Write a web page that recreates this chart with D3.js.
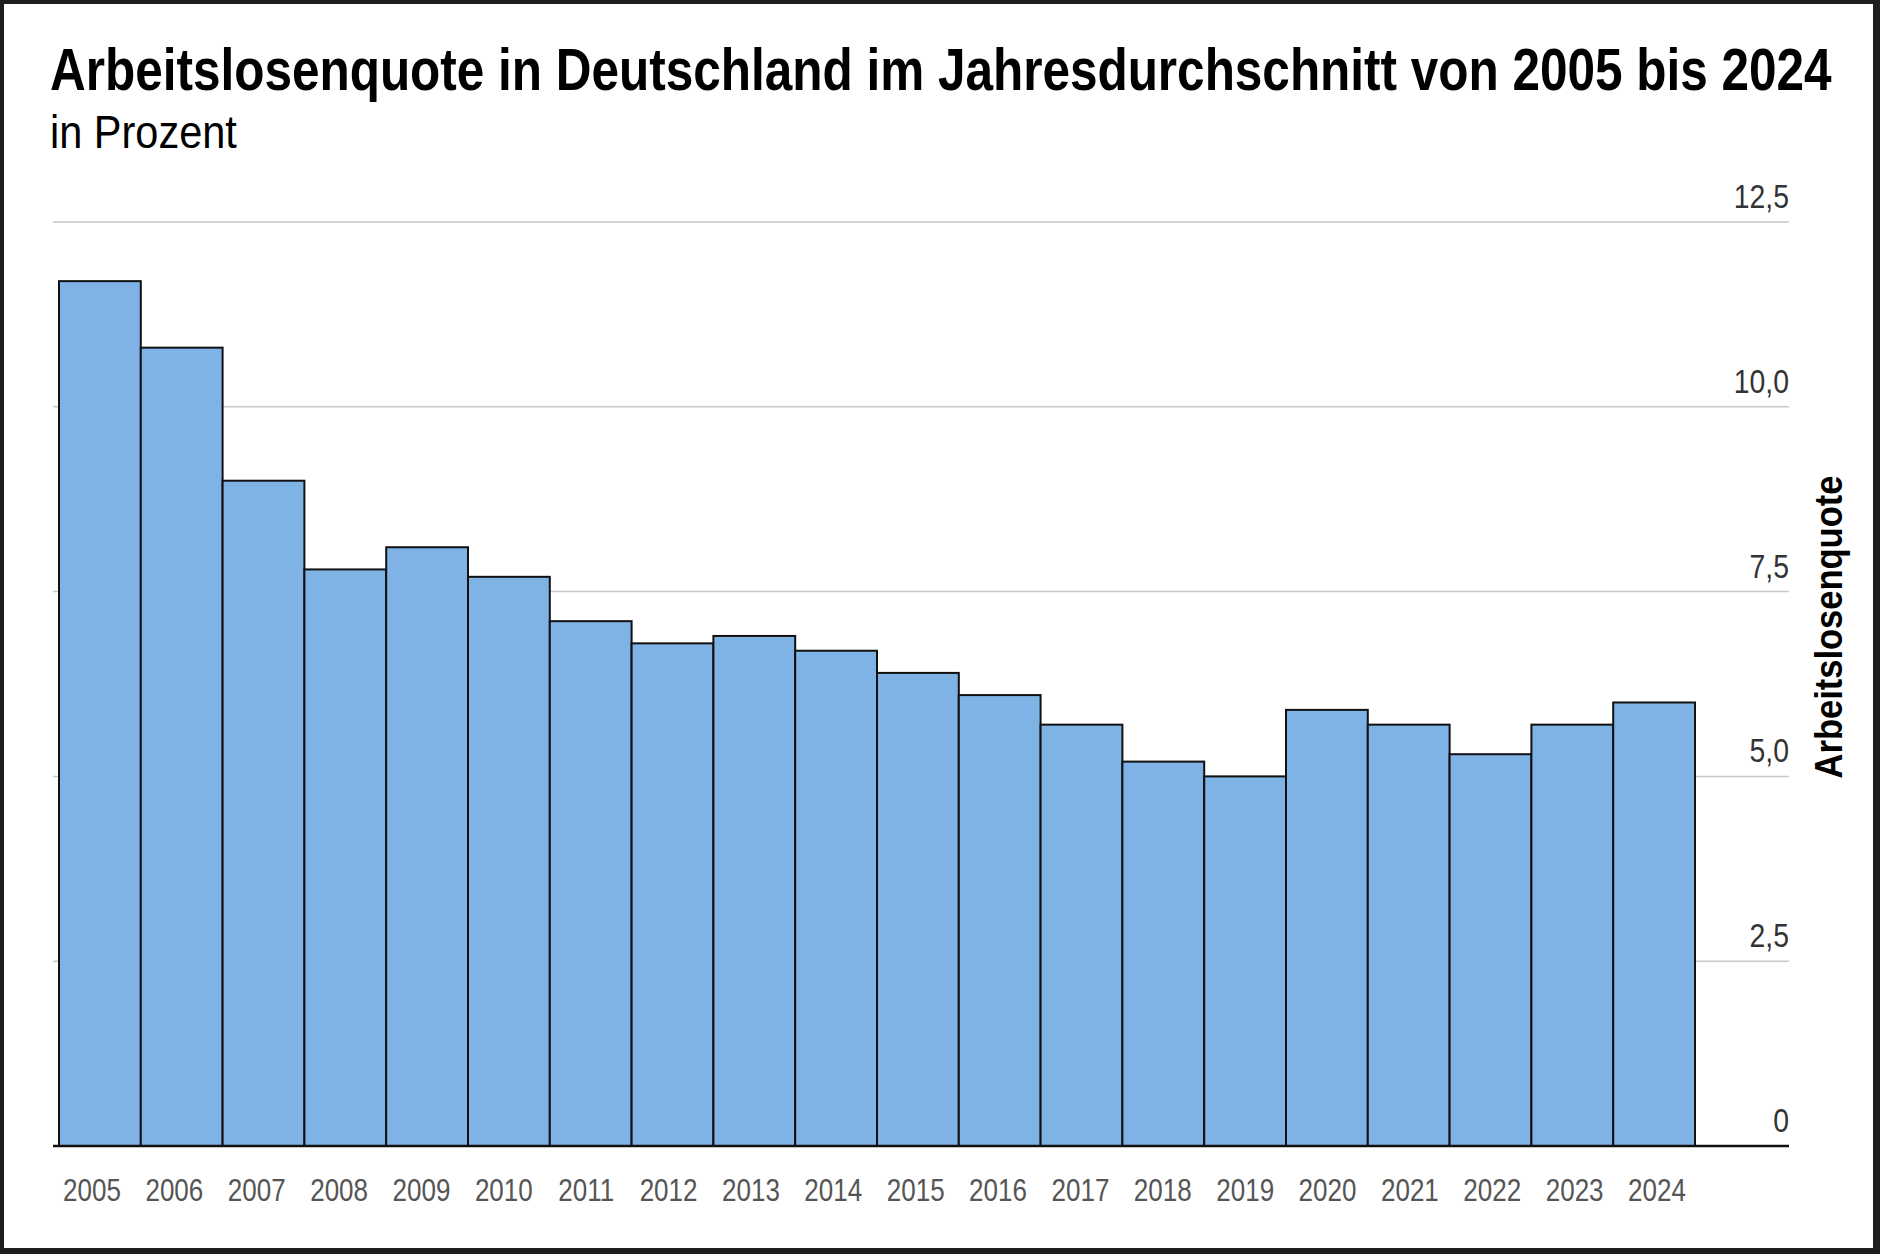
<!DOCTYPE html>
<html>
<head>
<meta charset="utf-8">
<script src="https://cdn.jsdelivr.net/npm/d3@7.9.0/dist/d3.min.js"></script>
<style>
  html, body { margin: 0; padding: 0; background: #1e1e1e; }
  svg { display: block; }
</style>
</head>
<body>
<svg id="chart" width="1880" height="1254"></svg>
<script>
// data
const years = ["2005","2006","2007","2008","2009","2010","2011","2012","2013","2014",
               "2015","2016","2017","2018","2019","2020","2021","2022","2023","2024"];
const quote = [11.7, 10.8, 9.0, 7.8, 8.1, 7.7, 7.1, 6.8, 6.9, 6.7,
               6.4, 6.1, 5.7, 5.2, 5.0, 5.9, 5.7, 5.3, 5.7, 6.0];
const yTicks = [0, 2.5, 5, 7.5, 10, 12.5];
const yTickLabels = ["0", "2,5", "5,0", "7,5", "10,0", "12,5"];

const W = 1880, H = 1254;
const font = "'Liberation Sans', Arial, sans-serif";
const svg = d3.select("#chart");

// squeeze a text horizontally so it fills a given width
function fitWidth(sel, width, tx, ty, rot) {
  let natural = sel.node().getComputedTextLength();
  let s = width / natural;
  sel.attr("transform", `translate(${tx},${ty})` + (rot ? ` rotate(${rot})` : "") + ` scale(${s},1)`);
}

// white card with dark frame
svg.append("rect").attr("x", 4).attr("y", 4)
  .attr("width", W - 11).attr("height", H - 10).attr("fill", "#fff");

const gridLeft = 53, gridRight = 1789;

let x = d3.scaleBand().domain(years).range([59, 1695]).padding(0);
let xLab = d3.scalePoint().domain(years).range([92, 1657]);
let y = d3.scaleLinear().domain([0, 12.5]).range([1146, 222]);

// gridlines
svg.append("g").selectAll("line")
  .data(yTicks.filter(d => d > 0))
  .join("line")
  .attr("x1", gridLeft).attr("x2", gridRight)
  .attr("y1", d => y(d)).attr("y2", d => y(d))
  .attr("stroke", "#c9c9c9").attr("stroke-width", 1.5);

// bars
svg.append("g").selectAll("rect")
  .data(quote)
  .join("rect")
  .attr("x", (d, i) => x(years[i]))
  .attr("y", d => y(d))
  .attr("width", x.bandwidth())
  .attr("height", d => y(0) - y(d))
  .attr("fill", "#7fb2e5")
  .attr("stroke", "#111")
  .attr("stroke-width", 2);

// baseline
svg.append("line")
  .attr("x1", gridLeft).attr("x2", gridRight)
  .attr("y1", y(0)).attr("y2", y(0))
  .attr("stroke", "#111").attr("stroke-width", 2.5);

// y tick labels (sit above the gridlines, right aligned)
svg.append("g").selectAll("text")
  .data(yTicks)
  .join("text")
  .attr("transform", d => `translate(${gridRight},${y(d) - 14}) scale(0.86,1)`)
  .attr("text-anchor", "end")
  .attr("font-family", font).attr("font-size", 33)
  .attr("fill", "#333")
  .text((d, i) => yTickLabels[i]);

// x labels
svg.append("g").selectAll("text")
  .data(years)
  .join("text")
  .attr("transform", d => `translate(${xLab(d)},1201) scale(0.84,1)`)
  .attr("text-anchor", "middle")
  .attr("font-family", font).attr("font-size", 31)
  .attr("fill", "#555")
  .text(d => d);

// y axis title
let yTitle = svg.append("text")
  .attr("text-anchor", "middle")
  .attr("font-family", font).attr("font-size", 38).attr("font-weight", "bold")
  .attr("fill", "#000")
  .text("Arbeitslosenquote");
fitWidth(yTitle, 303, 1842, 627, -90);

// title + subtitle
let title = svg.append("text")
  .attr("font-family", font).attr("font-size", 59).attr("font-weight", "bold")
  .attr("fill", "#000")
  .text("Arbeitslosenquote in Deutschland im Jahresdurchschnitt von 2005 bis 2024");
fitWidth(title, 1782, 50, 90);

let sub = svg.append("text")
  .attr("font-family", font).attr("font-size", 47)
  .attr("fill", "#000")
  .text("in Prozent");
fitWidth(sub, 187, 50, 148);
</script>
</body>
</html>
